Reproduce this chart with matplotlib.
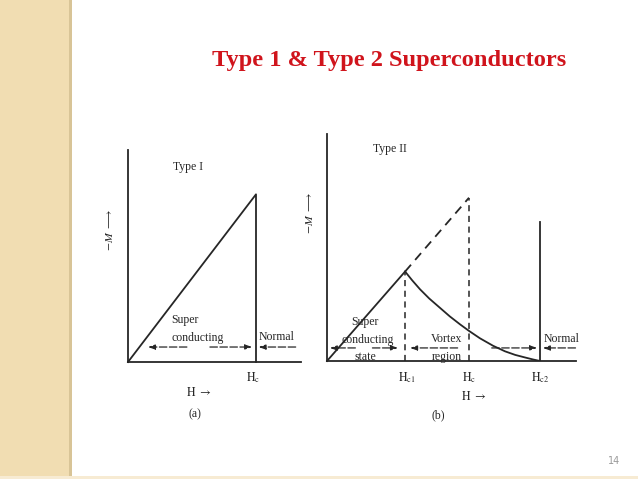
import numpy as np
import matplotlib
matplotlib.use("Agg")
import matplotlib.pyplot as plt

plt.rcParams['font.family'] = ['Liberation Serif', 'DejaVu Serif']
plt.rcParams['mathtext.fontset'] = 'stix'

# ---------------- data ----------------
title = "Type 1 & Type 2 Superconductors"
page_number = "14"

# Type I: linear -M rising to Hc, then drops to zero
type1_H = [0.0, 1.0, 1.0]
type1_M = [0.0, 1.31, 0.0]
type1_Hc = 1.0

# Type II
type2_H_meissner = [0.0, 0.55]
type2_M_meissner = [0.0, 0.63]
type2_H_dashed = [0.55, 1.0]
type2_M_dashed = [0.63, 1.15]
type2_Hc1 = 0.55
type2_Hc = 1.0
type2_Hc2 = 1.5
type2_curve_H = [0.55, 0.60, 0.655, 0.72, 0.796, 0.865, 0.937, 1.00, 1.077, 1.17, 1.254, 1.325, 1.394, 1.45, 1.5]
type2_curve_M = [0.63, 0.568, 0.505, 0.44, 0.374, 0.314, 0.258, 0.212, 0.160, 0.107, 0.068, 0.043, 0.025, 0.011, 0.0]
type2_normal_line_top = 0.98

ink = '#262626'
W, H = 638, 479
fig = plt.figure(figsize=(W / 100, H / 100), dpi=100)

# background decorations
bg = fig.add_axes([0, 0, 1, 1])
bg.set_xlim(0, W)
bg.set_ylim(H, 0)
bg.axis('off')
bg.axvspan(0, 70, color='#F1DDB2', lw=0)
bg.axvspan(69, 72, color='#D8C497', lw=0)
bg.axhspan(476, 479, color='#F7EBD3', lw=0)
bg.text(389, 60, title, color='#D0141C', fontsize=17.6, fontweight='bold',
        ha='center', va='center', family=['Liberation Serif'])
bg.text(614, 461, page_number, color='#9a9a9a', fontsize=7, ha='center',
        va='center', family=['DejaVu Sans'])


def make_axes(x0, y0, scale, xmax, ymax):
    ax = fig.add_axes([x0 / W, (H - y0) / H, xmax * scale / W, ymax * scale / H])
    ax.set_xlim(0, xmax)
    ax.set_ylim(0, ymax)
    for s in ['top', 'right']:
        ax.spines[s].set_visible(False)
    for s in ['left', 'bottom']:
        ax.spines[s].set_color(ink)
        ax.spines[s].set_linewidth(1.3)
    ax.set_xticks([])
    ax.set_yticks([])
    ax.patch.set_alpha(0)
    return ax


def arrow(ax, x_tail, x_head, y):
    ax.annotate('', xy=(x_head, y), xytext=(x_tail, y),
                arrowprops=dict(arrowstyle='-|>,head_length=0.4,head_width=0.14',
                                color=ink, lw=0.9, shrinkA=0, shrinkB=0,
                                linestyle=(0, (6, 2))),
                annotation_clip=False)


fs = 8.5

# ---------------- panel (a) ----------------
axa = make_axes(128, 362, 128, 1.35, 1.66)
axa.plot(type1_H, type1_M, color=ink, lw=1.3, clip_on=False)
axa.text(0.47, 1.52, "Type I", fontsize=fs, ha='center', va='center', color=ink)
axa.text(-0.14, 1.03, r"$-M\ \longrightarrow$", rotation=90, fontsize=fs, ha='center', va='center', color=ink)
axa.text(0.34, 0.33, "Super", fontsize=fs, ha='left', va='center', color=ink)
axa.text(0.34, 0.19, "conducting", fontsize=fs, ha='left', va='center', color=ink)
arrow(axa, 0.46, 0.156, 0.117)
arrow(axa, 0.64, 0.97, 0.117)
axa.text(1.16, 0.195, "Normal", fontsize=fs, ha='center', va='center', color=ink)
arrow(axa, 1.31, 1.02, 0.117)
axa.text(type1_Hc - 0.02, -0.12, r"$\mathrm{H_c}$", fontsize=fs, ha='center', va='center', color=ink)
axa.text(0.55, -0.24, r"$\mathrm{H}\ \rightarrow$", fontsize=fs, ha='center', va='center', color=ink)
axa.text(0.52, -0.41, "(a)", fontsize=fs, ha='center', va='center', color=ink)

# ---------------- panel (b) ----------------
axb = make_axes(327, 361, 142, 1.75, 1.6)
axb.plot(type2_H_meissner, type2_M_meissner, color=ink, lw=1.3, clip_on=False)
axb.plot(type2_H_dashed, type2_M_dashed, color=ink, lw=1.3, ls=(0, (5, 3.5)))
axb.plot([type2_Hc1, type2_Hc1], [0, type2_M_meissner[-1]], color=ink, lw=1.1, ls=(0, (4, 3)))
axb.plot([type2_Hc, type2_Hc], [0, type2_M_dashed[-1]], color=ink, lw=1.1, ls=(0, (4, 3)))
axb.plot(type2_curve_H, type2_curve_M, color=ink, lw=1.3, solid_joinstyle='round')
axb.plot([type2_Hc2, type2_Hc2], [0, type2_normal_line_top], color=ink, lw=1.3)

axb.text(0.44, 1.49, "Type II", fontsize=fs, ha='center', va='center', color=ink)
axb.text(-0.12, 1.04, r"$-M\ \longrightarrow$", rotation=90, fontsize=fs, ha='center', va='center', color=ink)
axb.text(0.27, 0.275, "Super", fontsize=fs, ha='center', va='center', color=ink)
axb.text(0.29, 0.148, "conducting", fontsize=fs, ha='center', va='center', color=ink)
axb.text(0.27, 0.028, "state", fontsize=fs, ha='center', va='center', color=ink)
arrow(axb, 0.2, 0.02, 0.092)
arrow(axb, 0.32, 0.5, 0.092)
axb.text(0.845, 0.155, "Vortex", fontsize=fs, ha='center', va='center', color=ink)
axb.text(0.845, 0.028, "region", fontsize=fs, ha='center', va='center', color=ink)
arrow(axb, 0.92, 0.585, 0.092)
arrow(axb, 1.16, 1.48, 0.092)
axb.text(1.65, 0.155, "Normal", fontsize=fs, ha='center', va='center', color=ink)
arrow(axb, 1.75, 1.52, 0.092)
axb.text(type2_Hc1 + 0.01, -0.12, r"$\mathrm{H_{c1}}$", fontsize=fs, ha='center', va='center', color=ink)
axb.text(type2_Hc, -0.12, r"$\mathrm{H_c}$", fontsize=fs, ha='center', va='center', color=ink)
axb.text(type2_Hc2, -0.12, r"$\mathrm{H_{c2}}$", fontsize=fs, ha='center', va='center', color=ink)
axb.text(1.03, -0.25, r"$\mathrm{H}\ \rightarrow$", fontsize=fs, ha='center', va='center', color=ink)
axb.text(0.78, -0.38, "(b)", fontsize=fs, ha='center', va='center', color=ink)

fig.savefig("out.png", dpi=100)
